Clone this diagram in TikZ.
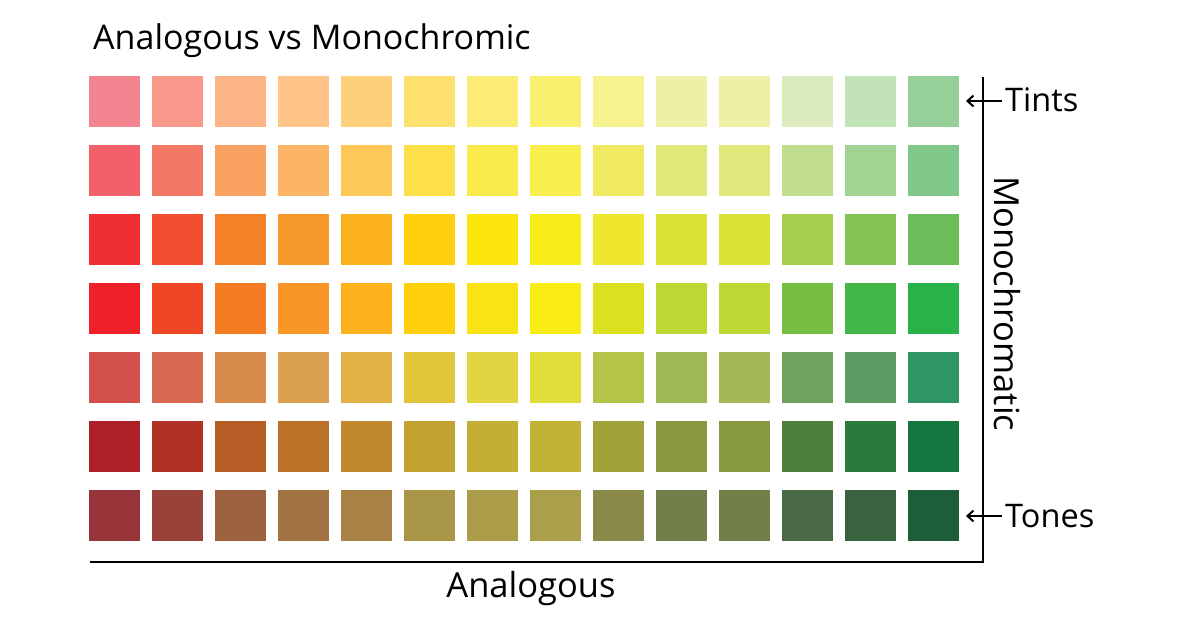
\documentclass[tikz,border=0pt]{standalone}
\usepackage{fontspec}
\setmainfont{Open Sans}
\usetikzlibrary{arrows.meta}
\begin{document}
\begin{tikzpicture}[x=1pt,y=-1pt,
  swatch/.style={minimum width=51pt, minimum height=51pt, inner sep=0pt, outer sep=0pt, anchor=north west, draw=none},
  axisline/.style={line width=2pt, black},
  arr/.style={line width=2pt, -{Straight Barb[length=6pt,width=11pt]}},
  sidelabel/.style={font=\fontsize{32.5}{38}\selectfont, inner xsep=3pt, inner ysep=0pt, anchor=base west}]
\useasboundingbox[fill=white] (0,0) rectangle (1185,632);
\foreach \row [count=\j from 0] in {
 {F38591,F8988B,FBB587,FEC48A,FED07C,FDE06E,FAEC74,F9F06E,F6F28E,EFF0A6,EEF0A6,DBEBBD,C2E2B8,96CF98},
 {F26169,F37866,F9A262,FBB564,FDC857,FDDF4A,F9EB4C,F8EE4D,F0EA62,E1E87A,E1E77A,C0DC8E,A2D393,80C78A},
 {EE2E31,F04E2F,F58229,F7982A,FCB21D,FED00D,FDE60B,F8EC19,EEE72E,DCE136,DBE237,A6CE4E,83C454,6ABD58},
 {EF2027,F04524,F47C22,F89626,FDB11A,FED00C,F9E314,F8EC14,DBE021,BED732,BED733,76BF43,43B74A,28B34A},
 {D24F4C,D66950,D78C4C,DBA050,E0B245,E1C63A,E1D542,E0DC3A,B5C349,A1B856,A2B956,72A260,5D9B65,2F9563},
 {AE2025,B13224,B75D26,BA7229,C0892D,C2A231,C2AF34,C2B334,A1A338,87983D,879A3E,4C803B,2A793D,15753F},
 {96343A,99423A,9E613E,A37241,A88244,AA9648,AB9D49,AAA04B,898A4A,727E49,737F48,4A6A47,386240,1D5D38}} {
  \foreach \c [count=\i from 0] in \row {
    \definecolor{sw}{HTML}{\c}
    \node[swatch, fill=sw] (s-\i-\j) at ({89+63*\i},{76+69*\j}) {};
  }
}
\coordinate (axleft) at (90,562);
\coordinate (corner) at (982.5,562);
\coordinate (axtop) at (982.5,76.5);
\draw[axisline] (axleft) -- (corner) -- (axtop);
\node[anchor=base west, inner sep=0pt, font=\fontsize{34}{40}\selectfont] (title) at (93,49) {Analogous vs Monochromic};
\node[anchor=base, inner sep=0pt, font=\fontsize{34.5}{40}\selectfont] (analog) at (531,597) {Analogous};
\node[rotate=-90, anchor=base, inner sep=0pt, font=\fontsize{34.5}{40}\selectfont] (mono) at (994,304) {Monochromatic};
\node[sidelabel] (tints) at (1002,111) {Tints};
\node[sidelabel] (tones) at (1002,527) {Tones};
\coordinate (tintstip) at (966,101);
\coordinate (tonestip) at (966,516);
\draw[arr] (tints.west |- tintstip) -- (tintstip);
\draw[arr] (tones.west |- tonestip) -- (tonestip);
\end{tikzpicture}
\end{document}
